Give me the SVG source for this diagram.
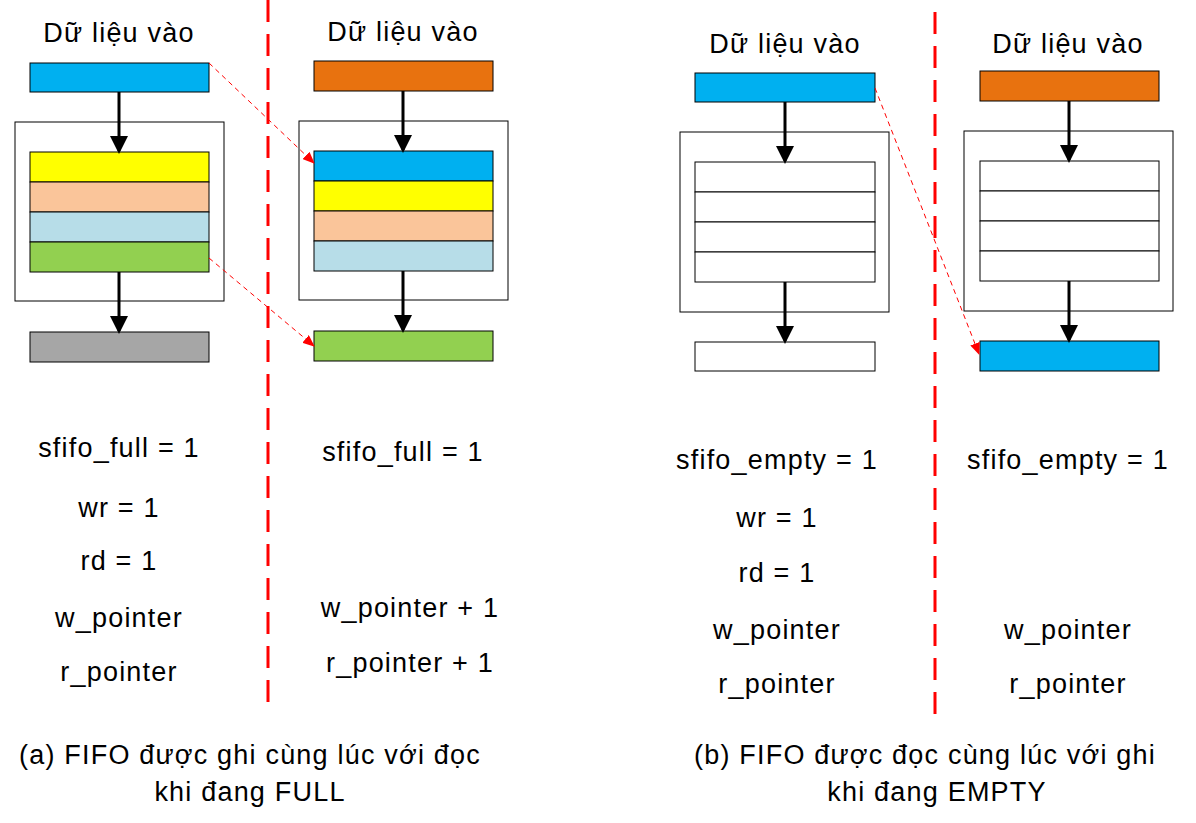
<svg xmlns="http://www.w3.org/2000/svg" width="1196" height="823" viewBox="0 0 1196 823">
<style>
text{font-family:"Liberation Sans",Arial,sans-serif;font-size:27px;letter-spacing:1.2px;fill:#000;text-anchor:middle}
.b{stroke:#000;stroke-width:1;fill:#fff}
.r{stroke:#000;stroke-width:1}
.ar{stroke:#000;stroke-width:3;marker-end:url(#ah)}
.rd{stroke:#f00;stroke-width:1;stroke-dasharray:5,4;fill:none;marker-end:url(#rh)}
.dv{stroke:#f00;stroke-width:3;stroke-dasharray:22,12}
</style>
<defs>
<marker id="ah" markerWidth="6" markerHeight="6" refX="5" refY="3" orient="auto"><path d="M0,0L6,3L0,6z" fill="#000"/></marker>
<marker id="rh" markerWidth="12" markerHeight="10" refX="11" refY="5" orient="auto" markerUnits="userSpaceOnUse"><path d="M0,0L12,5L0,10z" fill="#f00"/></marker>
</defs>
<rect width="1196" height="823" fill="#fff"/>
<g id="panel-a1">
<text x="119" y="42">Dữ liệu vào</text>
<rect class="r" x="30" y="63" width="179" height="29" fill="#00B0F0"/>
<rect class="b" x="15" y="122" width="209" height="179"/>
<rect class="r" x="30" y="152" width="179" height="30" fill="#FFFF00"/>
<rect class="r" x="30" y="182" width="179" height="30" fill="#FAC59A"/>
<rect class="r" x="30" y="212" width="179" height="30" fill="#B7DDE8"/>
<rect class="r" x="30" y="242" width="179" height="30" fill="#92D050"/>
<rect class="r" x="30" y="332" width="179" height="30" fill="#A6A6A6"/>
<text x="119" y="457">sfifo_full = 1</text>
<text x="119" y="517">wr = 1</text>
<text x="119" y="570">rd = 1</text>
<text x="119" y="627">w_pointer</text>
<text x="119" y="681">r_pointer</text>
</g>
<g id="panel-a2">
<text x="403" y="41">Dữ liệu vào</text>
<rect class="r" x="314" y="61" width="179" height="30" fill="#E8720F"/>
<rect class="b" x="299" y="121" width="209" height="179"/>
<rect class="r" x="314" y="151" width="179" height="30" fill="#00B0F0"/>
<rect class="r" x="314" y="181" width="179" height="30" fill="#FFFF00"/>
<rect class="r" x="314" y="211" width="179" height="30" fill="#FAC59A"/>
<rect class="r" x="314" y="241" width="179" height="30" fill="#B7DDE8"/>
<rect class="r" x="314" y="331" width="179" height="30" fill="#92D050"/>
<text x="403" y="461">sfifo_full = 1</text>
<text x="410" y="617">w_pointer + 1</text>
<text x="410" y="672">r_pointer + 1</text>
</g>
<g id="panel-b1">
<text x="785" y="53">Dữ liệu vào</text>
<rect class="r" x="695" y="73" width="180" height="29" fill="#00B0F0"/>
<rect class="b" x="680" y="132" width="209" height="180"/>
<rect class="b" x="695" y="162" width="180" height="30"/>
<rect class="b" x="695" y="192" width="180" height="30"/>
<rect class="b" x="695" y="222" width="180" height="30"/>
<rect class="b" x="695" y="252" width="180" height="30"/>
<rect class="b" x="695" y="342" width="180" height="29"/>
<text x="777" y="469">sfifo_empty = 1</text>
<text x="777" y="527">wr = 1</text>
<text x="777" y="582">rd = 1</text>
<text x="777" y="639">w_pointer</text>
<text x="777" y="693">r_pointer</text>
</g>
<g id="panel-b2">
<text x="1068" y="53">Dữ liệu vào</text>
<rect class="r" x="980" y="71" width="179" height="30" fill="#E8720F"/>
<rect class="b" x="964" y="131" width="209" height="180"/>
<rect class="b" x="980" y="161" width="179" height="30"/>
<rect class="b" x="980" y="191" width="179" height="30"/>
<rect class="b" x="980" y="221" width="179" height="30"/>
<rect class="b" x="980" y="251" width="179" height="30"/>
<rect class="r" x="980" y="341" width="179" height="30" fill="#00B0F0"/>
<text x="1068" y="469">sfifo_empty = 1</text>
<text x="1068" y="639">w_pointer</text>
<text x="1068" y="693">r_pointer</text>
</g>
<g id="connectors">
<line class="ar" x1="119" y1="92" x2="119" y2="151"/>
<line class="ar" x1="119" y1="272" x2="119" y2="331"/>
<line class="ar" x1="403" y1="91" x2="403" y2="150"/>
<line class="ar" x1="403" y1="271" x2="403" y2="330"/>
<line class="ar" x1="785" y1="102" x2="785" y2="161"/>
<line class="ar" x1="785" y1="282" x2="785" y2="341"/>
<line class="ar" x1="1069" y1="101" x2="1069" y2="160"/>
<line class="ar" x1="1069" y1="281" x2="1069" y2="340"/>
<line class="rd" x1="209" y1="63" x2="314" y2="163"/>
<line class="rd" x1="209" y1="258" x2="314" y2="346"/>
<line class="rd" x1="875" y1="88" x2="979" y2="354"/>
</g>
<line class="dv" x1="268" y1="0" x2="268" y2="705"/>
<line class="dv" x1="935" y1="12" x2="935" y2="715"/>
<text x="250" y="764">(a) FIFO được ghi cùng lúc với đọc</text>
<text x="250" y="801">khi đang FULL</text>
<text x="925" y="764">(b) FIFO được đọc cùng lúc với ghi</text>
<text x="937" y="801">khi đang EMPTY</text>
</svg>
